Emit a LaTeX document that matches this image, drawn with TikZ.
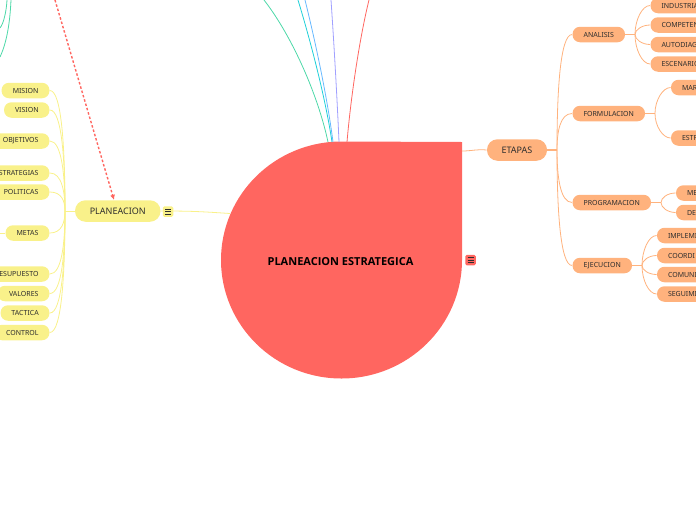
\documentclass[tikz,border=0pt]{standalone}
\usepackage{fontspec}
\setmainfont{Noto Sans}
\newfontfamily\corefont{Open Sans}
\usetikzlibrary{arrows.meta}
\definecolor{coreRed}{HTML}{FF6660}
\definecolor{planYellow}{HTML}{F9F18A}
\definecolor{stageOrange}{HTML}{FFB27D}
\definecolor{inkDark}{HTML}{2E2E2E}
\definecolor{lineGreen}{HTML}{4DD8A8}
\definecolor{lineCyan}{HTML}{1FD0D8}
\definecolor{lineBlue}{HTML}{66B8FF}
\definecolor{linePurple}{HTML}{A0A0FF}
\tikzset{
    branch/.style={rounded corners=7.5pt,inner sep=0pt,minimum height=15.5pt,text=inkDark,font=\fontsize{7}{8}\selectfont},
    topic/.style={rounded corners=10.5pt,inner sep=0pt,minimum height=21.5pt,text=inkDark,font=\fontsize{9}{10}\selectfont},
    menu/.style={rounded corners=1.5pt,inner sep=0pt,minimum width=10.5pt,minimum height=10.5pt,
        path picture={\draw[inkDark,line width=0.8pt] (path picture bounding box.center) ++(-3,-2.5) -- ++(6,0) ++(-6,2.5) -- ++(6,0) ++(-6,2.5) -- ++(6,0);}},
}
\begin{document}
\begin{tikzpicture}[x=1pt,y=-1pt,line width=0.8pt]
    \useasboundingbox (0,0) rectangle (696,520);
    \clip (0,0) rectangle (696,520);

    % central shape
    \fill[coreRed] (462,142) -- (462,260) arc[start angle=0,end angle=270,x radius=120.5,y radius=118.5] -- cycle;
    \node[font=\corefont\fontsize{11}{12}\selectfont\bfseries,text=black] (core) at (340.5,261.5) {PLANEACION ESTRATEGICA};
    \node[menu,fill=coreRed] (coremenu) at (470.5,260) {};

    % lines leaving through the top
    \foreach \name/\xa/\xb/\col/\ca/\cb in {
        green/264/328/lineGreen/292/318,
        cyan/298/332/lineCyan/309/325,
        blue/305/333/lineBlue/314/327,
        purple/331/339/linePurple/333.5/337,
        red/369/347/coreRed/360/351} {
        \coordinate (\name top) at (\xa,0);
        \coordinate (\name foot) at (\xb,142);
        \draw[\col] (\name top) .. controls (\ca,36) and (\cb,95) .. (\name foot);
    }
    \coordinate (edgeA) at (11,0);
    \coordinate (edgeB) at (0,57);
    \coordinate (edgeC) at (7,0);
    \coordinate (edgeD) at (0,28);
    \draw[lineGreen] (edgeA) .. controls (10,22) and (7,42) .. (edgeB);
    \draw[lineGreen] (edgeC) .. controls (6.5,10) and (4,23) .. (edgeD);

    % planeacion
    \coordinate (plantrunk) at (65,211);
    \coordinate (planfoot) at (230,213.5);
    \node[topic,fill=planYellow,minimum width=85.5pt] (plan) at (117.75,211) {PLANEACION};
    \draw[planYellow] (plantrunk) -- (plan.west);
    \draw[planYellow] (plan.east) .. controls +(30,0) and +(-30,-2) .. (planfoot);
    \node[menu,fill=planYellow] (planmenu) at (168,211.5) {};
    \foreach \name/\txt/\yc/\nw in {
        mision/MISION/90.5/48,
        vision/VISION/110/45.5,
        objetivos/OBJETIVOS/141/58,
        estrategias/ESTRATEGIAS/173/66,
        politicas/POLITICAS/192/57,
        metas/METAS/233/44,
        presupuesto/PRESUPUESTO/274/72,
        valores/VALORES/293.5/52,
        tactica/TACTICA/313/49,
        control/CONTROL/332.5/55} {
        \node[branch,fill=planYellow,minimum width=\nw pt,text width=\nw pt-22pt,align=right] (\name) at (49.5-\nw/2,\yc) {\txt};
        \draw[planYellow] (\name.east) .. controls +(12,0) and +(0,{(\yc-211)/2}) .. (plantrunk);
    }
    \coordinate (metasout) at (0,233);
    \draw[planYellow] (metas.west) -- (metasout);

    % link into planeacion
    \coordinate (linkstart) at (55,0);
    \draw[coreRed,line width=1.4pt,dash pattern=on 2.5pt off 2pt,-{Latex[length=5pt,width=5pt]}] (linkstart) -- ([xshift=-3.75pt]plan.north);

    % etapas
    \node[topic,fill=stageOrange,minimum width=60pt] (etapas) at (517,150) {ETAPAS};
    \coordinate (corefoot) at (462,151);
    \coordinate (etrunk) at (557,150);
    \draw[stageOrange] (corefoot) .. controls +(10,0) and +(-10,-1) .. (etapas.west);
    \draw[stageOrange,line width=1.2pt] (etapas.east) -- (etrunk);
    \foreach \name/\txt/\nw/\yc/\tx/\sz in {
        analisis/ANALISIS/52.5/34.5/635/1.2,
        formulacion/FORMULACION/72.5/113.5/655/1.2,
        programacion/PROGRAMACION/78.5/202.5/661/1.2,
        ejecucion/EJECUCION/59.5/265.5/642/0.8} {
        \node[branch,fill=stageOrange,minimum width=\nw pt] (\name) at (572.5+\nw/2,\yc) {\txt};
        \coordinate (\name trunk) at (\tx,\yc);
        \draw[stageOrange] (etrunk) .. controls +(0,{(\yc-150)/2}) and +(-12,0) .. (\name.west);
        \draw[stageOrange,line width=\sz pt] (\name.east) -- (\name trunk);
    }
    \foreach \src/\name/\txt/\lft/\yc/\yo in {
        analisis/industria/INDUSTRIA/650.5/5.5/34.5,
        analisis/competen/COMPETEN/650.5/25/34.5,
        analisis/autodiag/AUTODIAG/650.5/44.5/34.5,
        analisis/escenario/ESCENARIO/650.5/64/34.5,
        formulacion/mar/MAR/671/87.5/113.5,
        formulacion/estr/ESTR/671/138/113.5,
        programacion/me/ME/676/193/202.5,
        programacion/de/DE/676/212.5/202.5,
        ejecucion/implem/IMPLEMI/657/235.5/265.5,
        ejecucion/coordi/COORDI/657/255.5/265.5,
        ejecucion/comuni/COMUNI/657/274.5/265.5,
        ejecucion/seguim/SEGUIMI/657/294/265.5} {
        \node[branch,fill=stageOrange,minimum width=90pt,text width=68pt,align=left] (\name) at (\lft+45,\yc) {\txt};
        \draw[stageOrange] (\src trunk) .. controls +(0,{(\yc-\yo)/2}) and +(-8,0) .. (\name.west);
    }
\end{tikzpicture}
\end{document}
